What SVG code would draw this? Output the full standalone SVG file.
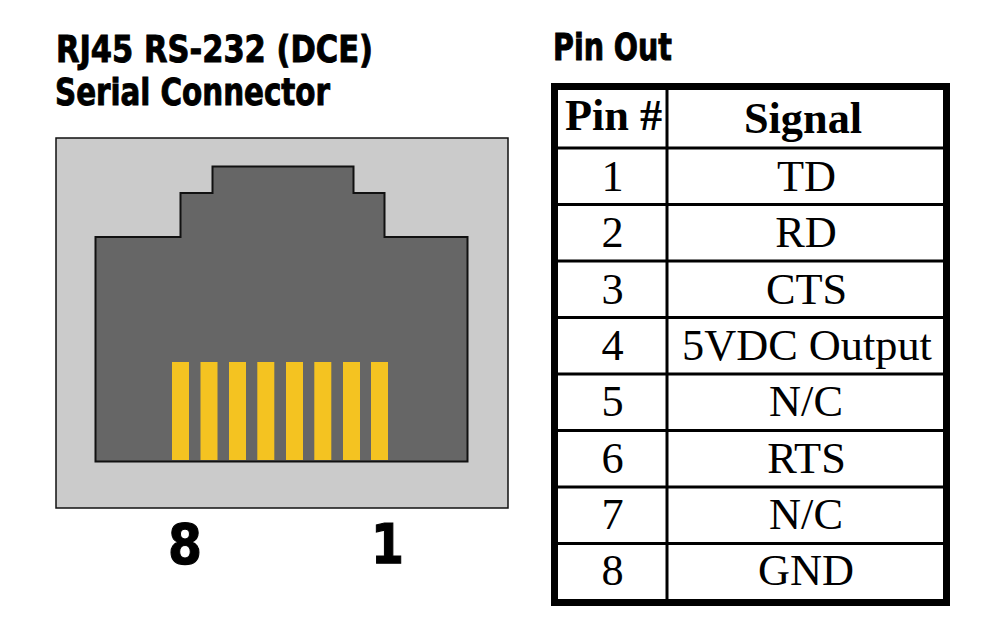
<svg xmlns="http://www.w3.org/2000/svg" width="1000" height="638" viewBox="0 0 1000 638">
<style>
.h{font-family:"DejaVu Sans",sans-serif;font-stretch:condensed;font-weight:700;fill:#000;stroke:#000;stroke-width:.9px;font-size:38px}
.n{font-family:"DejaVu Sans",sans-serif;font-weight:700;fill:#000;stroke:#000;stroke-width:1.2px;font-size:56px}
.t{font-family:"Liberation Serif","Times New Roman",serif;font-size:44.300px;fill:#000;text-anchor:middle}
.b{font-weight:700}
.pin{fill:#f4c321;width:17px;height:98px;y:362px}
.ln{fill:#000}
</style>
<rect width="1000" height="638" fill="#fff"/>
<g id="titles">
<text class="h" x="56" y="62" textLength="317" lengthAdjust="spacingAndGlyphs">RJ45 RS-232 (DCE)</text>
<text class="h" x="55" y="105" textLength="275" lengthAdjust="spacingAndGlyphs">Serial Connector</text>
<text class="h" x="553" y="60" textLength="119" lengthAdjust="spacingAndGlyphs">Pin Out</text>
</g>
<g id="connector">
<rect x="56" y="138" width="452" height="370" fill="#cbcbcb" stroke="#111" stroke-width="1.5"/>
<path d="M95.500 461.500V237H180.500V193H212.500V166.500H353.500V193H384.500V237H467.500V461.500Z" fill="#666" stroke="#111" stroke-width="2"/>
<g id="pins">
<rect class="pin" x="172"/><rect class="pin" x="200.500"/><rect class="pin" x="229"/><rect class="pin" x="257.300"/><rect class="pin" x="286"/><rect class="pin" x="314.300"/><rect class="pin" x="343"/><rect class="pin" x="371"/>
</g>
<text class="n" x="168" y="563" textLength="34" lengthAdjust="spacingAndGlyphs">8</text>
<text class="n" x="371" y="563" textLength="33" lengthAdjust="spacingAndGlyphs">1</text>
</g>
<g id="table">
<rect x="554.500" y="86.500" width="392" height="516" fill="#fff" stroke="#000" stroke-width="7"/>
<g id="grid">
<rect class="ln" x="665.500" y="88" width="3" height="514"/>
<rect class="ln" x="556" y="146.500" width="390" height="3"/>
<rect class="ln" x="556" y="203" width="390" height="3"/>
<rect class="ln" x="556" y="259.500" width="390" height="3"/>
<rect class="ln" x="556" y="316" width="390" height="3"/>
<rect class="ln" x="556" y="372.500" width="390" height="3"/>
<rect class="ln" x="556" y="429" width="390" height="3"/>
<rect class="ln" x="556" y="485.500" width="390" height="3"/>
<rect class="ln" x="556" y="542" width="390" height="3"/>
</g>
<g id="header"><text class="t b" x="613.500" y="130">Pin #</text><text class="t b" x="803" y="133">Signal</text></g>
<g id="row1"><text class="t" x="612.500" y="191">1</text><text class="t" x="806.500" y="191">TD</text></g>
<g id="row2"><text class="t" x="612.500" y="247">2</text><text class="t" x="806" y="247">RD</text></g>
<g id="row3"><text class="t" x="612.500" y="303.500">3</text><text class="t" x="806.500" y="303.500">CTS</text></g>
<g id="row4"><text class="t" x="612.500" y="360">4</text><text class="t" x="807" y="360">5VDC Output</text></g>
<g id="row5"><text class="t" x="612.500" y="416">5</text><text class="t" x="806" y="416">N/C</text></g>
<g id="row6"><text class="t" x="612.500" y="472.500">6</text><text class="t" x="806.500" y="472.500">RTS</text></g>
<g id="row7"><text class="t" x="612.500" y="529">7</text><text class="t" x="806" y="529">N/C</text></g>
<g id="row8"><text class="t" x="612.500" y="585">8</text><text class="t" x="806" y="585">GND</text></g>
</g>
</svg>
